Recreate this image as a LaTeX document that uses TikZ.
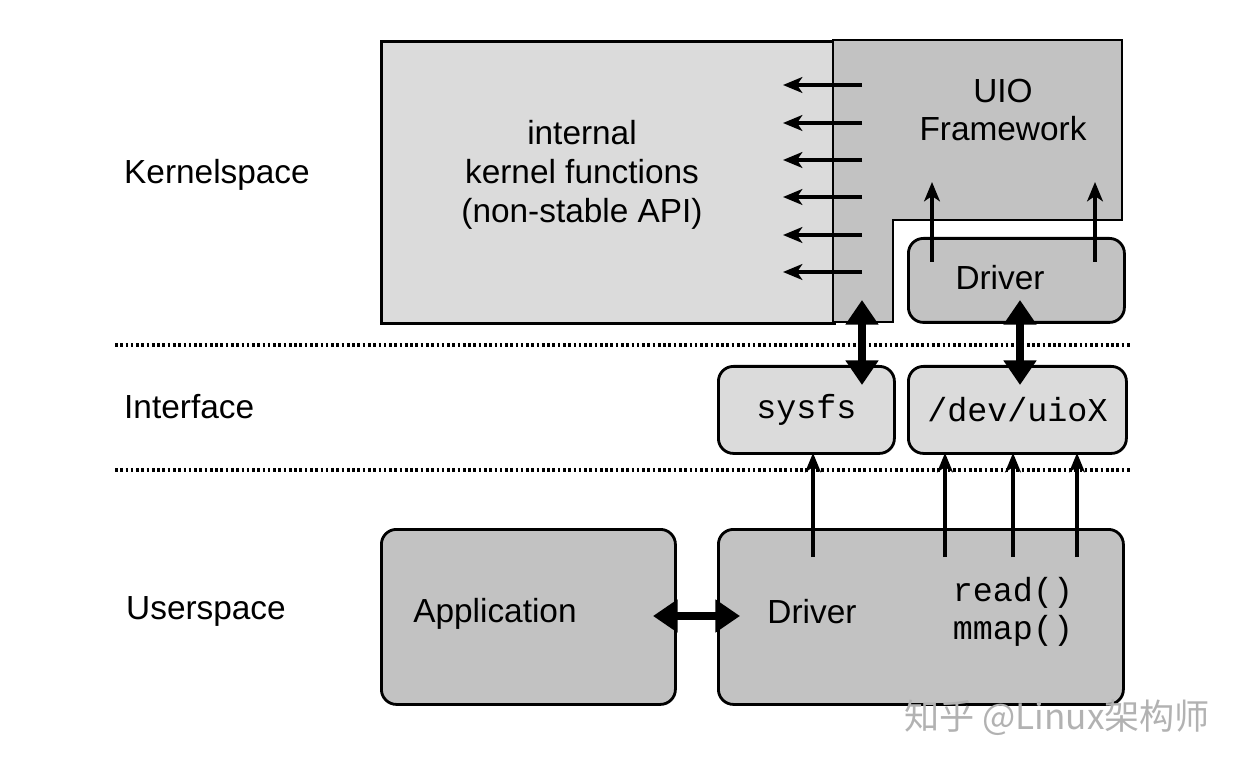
\documentclass[tikz,border=0pt]{standalone}
\usepackage{fontspec}
\setmainfont{Liberation Sans}
\setmonofont{Liberation Mono}
\newfontfamily\cjk{Noto Sans CJK SC}
\usetikzlibrary{arrows.meta}
\definecolor{lg}{gray}{0.86}
\definecolor{dg}{gray}{0.76}
\begin{document}
\begin{tikzpicture}[x=0.02cm,y=-0.02cm,
  box/.style={draw,line width=1.6pt},
  rbox/.style={draw,line width=1.6pt,rounded corners=0.3cm},
  txt/.style={font=\fontsize{19}{22}\selectfont,align=center},
  mono/.style={font=\ttfamily\fontsize{19}{22}\selectfont,align=center},
  thin/.style={-{Stealth[length=11pt,width=9pt,inset=3pt]},line width=1.8pt},
  fat/.style={{Triangle[length=14pt,width=18pt]}-{Triangle[length=14pt,width=18pt]},line width=4pt},
  dots/.style={dash pattern=on 1.5pt off 1.5pt,line width=1.8pt}]
\useasboundingbox (0,0) rectangle (1255,770);
\node[box,fill=lg,minimum width=453*0.02cm,minimum height=282*0.02cm,anchor=north west] (kf) at (380,40) {};
\draw[box,fill=dg] (833,40) -- (1122,40) -- (1122,220) -- (893,220) -- (893,322) -- (833,322) -- cycle;
\node[txt] (kft) at (582,175) {internal\\kernel functions\\(non-stable API)};
\node[txt] (uio) at (1003,110) {UIO\\Framework};
\foreach \y [count=\i] in {85,123,160,197,235,272}{
  \coordinate (s\i) at (862,\y); \coordinate (e\i) at (783,\y);
  \draw[thin] (s\i) -- (e\i);}
\node[rbox,fill=dg,minimum width=216*0.02cm,minimum height=84*0.02cm,anchor=north west] (kd) at (907,237) {};
\node[txt] at (1000,278) {Driver};
\coordinate (u1) at (932,182); \coordinate (u2) at (1095,182);
\draw[thin] (932,262) -- (u1);
\draw[thin] (1095,262) -- (u2);
\coordinate (d1a) at (115,345); \coordinate (d1b) at (1130,345);
\coordinate (d2a) at (115,470); \coordinate (d2b) at (1130,470);
\draw[dots] (d1a) -- (d1b);
\draw[dots] (d2a) -- (d2b);
\node[rbox,fill=lg,minimum width=176*0.02cm,minimum height=87*0.02cm,anchor=north west] (sys) at (717,365) {};
\node[mono] at (sys.center) {sysfs};
\node[rbox,fill=lg,minimum width=218*0.02cm,minimum height=87*0.02cm,anchor=north west] (dev) at (907,365) {};
\node[mono] at (dev.center) {/dev/uioX};
\draw[fat] (862,300) -- (862,385);
\draw[fat] (1020,300) -- (1020,385);
\node[rbox,fill=dg,minimum width=294*0.02cm,minimum height=175*0.02cm,anchor=north west] (app) at (380,528) {};
\node[txt] at (495,614) {Application};
\node[rbox,fill=dg,minimum width=405*0.02cm,minimum height=175*0.02cm,anchor=north west] (ud) at (717,528) {};
\node[txt] at (812,612) {Driver};
\node[mono] at (1013,612) {read()\\mmap()};
\draw[fat] (653,616) -- (740,616);
\foreach \x in {813,945,1013,1077}{\draw[thin] (\x,557) -- (\x,453);}
\node[txt,anchor=west] at (118,175) {Kernelspace};
\node[txt,anchor=west] at (118,407) {Interface};
\node[txt,anchor=west] at (120,611) {Userspace};
\node[text=gray!60,font=\cjk\fontsize{20}{22}\selectfont,anchor=west] at (898,718) {知乎 @Linux架构师};
\end{tikzpicture}
\end{document}
